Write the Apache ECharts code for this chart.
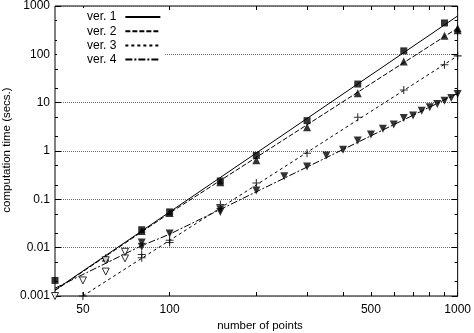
<!DOCTYPE html>
<html>
<head>
<meta charset="utf-8">
<script src="https://cdn.jsdelivr.net/npm/echarts@6/dist/echarts.min.js"></script>
<style>html,body{margin:0;padding:0;background:#fff;}#c{width:474px;height:333px;}</style>
</head>
<body>
<div id="c"></div>
<script>
// ---- data ----
const seriesNames = ['ver. 1', 'ver. 2', 'ver. 3', 'ver. 4'];
const xTitle = 'number of points';
const yTitle = 'computation time (secs.)';

// measured points
const v1X = [40, 80, 100, 150, 200, 300, 450, 650, 900];
const v1Y = [0.0021, 0.0235, 0.055, 0.24, 0.81, 4.25, 24.3, 118, 446];

const v2X = [60, 80, 100, 150, 200, 300, 450, 650, 900, 1000, 1000];
const v2Y = [0.0062, 0.022, 0.052, 0.225, 0.64, 3.1, 15.6, 71, 241, 347, 315];

const v3X = [50, 80, 80, 100, 100, 150, 200, 300, 450, 650, 900, 1000];
const v3Y = [0.001, 0.0062, 0.0072, 0.0142, 0.0128, 0.078, 0.217, 0.9, 5.0, 18.3, 61, 93];

const v4X = [80, 80, 100, 150, 150, 200, 250, 300, 350, 400, 450, 500, 550, 600, 650, 700, 750, 800, 850, 900, 950, 1000];
const v4Y = [0.0104, 0.0128, 0.0196, 0.062, 0.055, 0.153, 0.30, 0.48, 0.81, 1.06, 1.64, 2.19, 2.87, 3.52, 4.83, 5.4, 6.8, 8.0, 9.4, 11, 12.5, 15.1];
// low-value ver. 4 points drawn as open triangles
const v4oX = [40, 50, 60, 60, 70, 70];
const v4oY = [0.001, 0.0021, 0.0032, 0.0055, 0.006, 0.0082];

// fitted lines (nodes)
const fit1X = [40, 1000];
const fit1Y = [0.00133, 622];
const fit2X = [40, 100, 1000];
const fit2Y = [0.0013, 0.052, 350];
const fit3X = [50, 1000];
const fit3Y = [0.001, 93];
const fit4X = [40, 80, 100, 1000];
const fit4Y = [0.00145, 0.011, 0.019, 15.5];

// axis ticks
const xLabelVals = [50, 100, 500, 1000];
const xTickVals = [50, 100, 200, 300, 400, 500, 600, 700, 800, 900, 1000];
const yLabelVals = [0.001, 0.01, 0.1, 1, 10, 100, 1000];
const yMinorVals = [0.002, 0.005, 0.02, 0.05, 0.2, 0.5, 2, 5, 20, 50, 200, 500];

// ---- build ----
const pairs = (xs, ys) => xs.map((x, i) => [x, ys[i]]);
const FONT = '"Liberation Sans", Arial, Helvetica, sans-serif';
const fmt = v => String(parseFloat(Number(v).toPrecision(6)));
const plusPath = 'path://M2.6,0h0.8v2.6h2.6v0.8h-2.6v2.6h-0.8v-2.6h-2.6v-0.8h2.6z';

function xAx(pos, labels) {
  return {
    type: 'log', logBase: 10, min: 40, max: 1000, position: pos,
    axisLine: {show: false},
    axisTick: {show: true, inside: true, length: 4, customValues: xTickVals, lineStyle: {color: '#000'}},
    axisLabel: {show: labels, customValues: xLabelVals, formatter: fmt, margin: 8,
      align: 'center', fontFamily: FONT, fontSize: 12, color: '#000'},
    splitLine: {show: false}, minorTick: {show: false}
  };
}
function yAx(pos, major, labels) {
  return {
    type: 'log', logBase: 10, min: 0.001, max: 1000, position: pos,
    axisLine: {show: false},
    axisTick: {show: true, inside: true, length: major ? 6 : 3,
      customValues: major ? yLabelVals : yMinorVals, lineStyle: {color: '#000'}},
    axisLabel: {show: labels, customValues: yLabelVals, formatter: fmt, margin: 5,
      align: 'right', verticalAlign: 'middle', hideOverlap: false,
      fontFamily: FONT, fontSize: 12, color: '#000'},
    splitLine: {show: labels, lineStyle: {type: [1, 1], color: '#666', width: 1}},
    minorTick: {show: false}
  };
}

const lineStyles = [
  {type: 'solid'},
  {type: [5, 2]},
  {type: [3, 3]},
  {type: [7, 2, 2, 2]}
];
const fits = [pairs(fit1X, fit1Y), pairs(fit2X, fit2Y), pairs(fit3X, fit3Y), pairs(fit4X, fit4Y)];

const series = [];
fits.forEach((d, i) => {
  series.push({
    name: seriesNames[i], type: 'line', data: d, symbol: 'none', silent: true,
    lineStyle: Object.assign({color: '#000', width: 1}, lineStyles[i]),
    itemStyle: {color: 'rgba(0,0,0,0)', borderColor: 'rgba(0,0,0,0)', borderWidth: 0}, z: 2
  });
});
const sc = (name, d, symbol, size, rot, empty) => ({
  name: name, type: 'scatter', data: d, symbol: symbol, symbolSize: size,
  symbolRotate: rot || 0, silent: true, z: 3,
  itemStyle: empty ? {color: '#fff', borderColor: '#000', borderWidth: 1} : {color: '#000'}
});
series.push(sc('p1', pairs(v1X, v1Y), 'rect', 7));
series.push(sc('p2', pairs(v2X, v2Y), 'triangle', 8));
series.push(sc('p3', pairs(v3X, v3Y), plusPath, 8));
series.push(sc('p4', pairs(v4X, v4Y), 'triangle', 8, 180));
series.push(sc('p4o', pairs(v4oX, v4oY), 'triangle', 7, 180, true));

const chart = echarts.init(document.getElementById('c'), null, {renderer: 'canvas'});
chart.setOption({
  animation: false,
  backgroundColor: '#fff',
  grid: {left: 55, right: 13, top: 5, bottom: 37, show: true, borderColor: '#000', borderWidth: 1, containLabel: false},
  legend: {
    data: seriesNames, orient: 'vertical', left: 57, top: 8, align: 'right',
    itemWidth: 35, itemHeight: 10, itemGap: 2.2, padding: [3, 4, 2, 30],
    backgroundColor: '#fff', selectedMode: false,
    textStyle: {fontFamily: FONT, fontSize: 12, color: '#000', padding: [0, 4, 0, 0]}
  },
  graphic: [
    {type: 'text', style: {text: xTitle, font: '11.5px ' + FONT, fill: '#000',
      align: 'center', verticalAlign: 'middle'}, x: 260, y: 326},
    {type: 'text', rotation: Math.PI / 2, style: {text: yTitle, font: '11.5px ' + FONT, fill: '#000',
      align: 'center', verticalAlign: 'middle'}, x: 7, y: 150}
  ],
  xAxis: [xAx('bottom', true), xAx('top', false)],
  yAxis: [yAx('left', true, true), yAx('left', false, false), yAx('right', true, false), yAx('right', false, false)],
  series: series
});
</script>
</body>
</html>
